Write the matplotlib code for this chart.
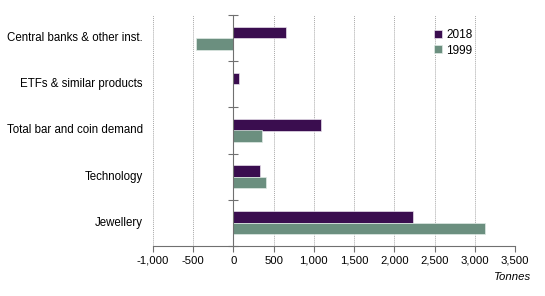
import matplotlib
matplotlib.use("Agg")
import matplotlib.pyplot as plt
import matplotlib.transforms as mtransforms
import numpy as np

plt.rcParams['font.family'] = ['Liberation Sans', 'DejaVu Sans']

categories = ["Central banks & other inst.", "ETFs & similar products",
              "Total bar and coin demand", "Technology", "Jewellery"]
values_2018 = [654, 71, 1092, 331, 2238]
values_1999 = [-471, 0, 356, 410, 3127]
xticks = [-1000, -500, 0, 500, 1000, 1500, 2000, 2500, 3000, 3500]
xticklabels = ["-1,000", "-500", "0", "500", "1,000", "1,500", "2,000", "2,500", "3,000", "3,500"]

c2018 = "#3a0d4f"
c1999 = "#6b8f7f"

fig = plt.figure(figsize=(5.45, 2.96), dpi=100)
ax = fig.add_axes([153/545, 1 - 246/296, (515 - 153)/545, (246 - 15)/296])

y = np.arange(len(categories))
h = 0.25
ax.barh(y - h/2, values_2018, height=h, color=c2018, edgecolor="#e8e0ec", linewidth=0.5, label="2018", zorder=3)
ax.barh(y + h/2, values_1999, height=h, color=c1999, edgecolor="#e0ebe5", linewidth=0.5, label="1999", zorder=3)

ax.set_xlim(-1000, 3500)
ax.set_ylim(len(categories) - 0.5, -0.5)

ax.set_xticks(xticks)
ax.set_xticklabels(xticklabels, fontsize=8.2)
ax.tick_params(axis='x', direction='out', length=4, width=0.8, color="#707070", pad=3)

for xv in xticks:
    if xv != 0:
        ax.axvline(xv, color="#a8a8a8", linestyle=(0, (1, 1)), linewidth=0.7, zorder=1)

for s in ['top', 'right']:
    ax.spines[s].set_visible(False)
ax.spines['bottom'].set_color("#707070")
ax.spines['left'].set_position(('data', 0))
ax.spines['left'].set_color("#707070")
ax.spines['left'].set_zorder(4)

ax.set_yticks(y)
ax.set_yticklabels([])
ax.tick_params(axis='y', which='major', length=0)
ax.set_yticks(np.arange(len(categories) + 1) - 0.5, minor=True)
ax.tick_params(axis='y', which='minor', direction='inout', length=7, width=0.8, color="#707070")

trans = mtransforms.blended_transform_factory(fig.transFigure, ax.transData)
for yi, cat in zip(y, categories):
    ax.text(143/545, yi, cat, transform=trans, ha='right', va='center', fontsize=8.3)

ax.text(531/545, 1 - 277/296, "Tonnes", transform=fig.transFigure, ha='right', va='center',
        fontsize=8.2, style='italic')

leg = ax.legend(loc='upper left', bbox_to_anchor=(434/545, 1 - 29/296), bbox_transform=fig.transFigure,
                frameon=False, fontsize=8.5, handlelength=0.65, handleheight=0.65,
                handletextpad=0.4, labelspacing=0.3, borderaxespad=0, borderpad=0)

fig.savefig("out.png", dpi=100)
